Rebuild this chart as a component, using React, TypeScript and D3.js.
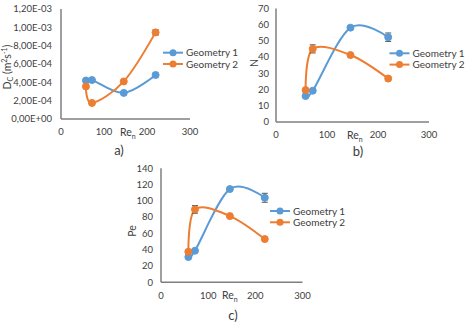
import React from "react";
import * as d3 from "d3";

const reynolds = [58, 72, 146, 220];
const seriesNames = ["Geometry 1", "Geometry 2"];
const xTicks = [0, 100, 200, 300];

const dcGeom1 = [4.2e-4, 4.25e-4, 2.85e-4, 4.8e-4];
const dcGeom2 = [3.55e-4, 1.75e-4, 4.1e-4, 9.45e-4];
const dcErr1 = [0, 0, 0, 2e-5];
const dcErr2 = [0, 0, 0, 3e-5];
const dcTicks = [0, 2e-4, 4e-4, 6e-4, 8e-4, 1e-3, 1.2e-3];
const dcTickLabels = ["0,00E+00", "2,00E-04", "4,00E-04", "6,00E-04", "8,00E-04", "1,00E-03", "1,20E-03"];

const nGeom1 = [16, 19.3, 58.2, 52.3];
const nGeom2 = [19.7, 45.1, 41.3, 26.8];
const nErr1 = [0, 0, 0, 2.6];
const nErr2 = [0, 2.5, 0, 0];
const nTicks = [0, 10, 20, 30, 40, 50, 60, 70];

const peGeom1 = [31, 38.8, 114.5, 103.8];
const peGeom2 = [37.5, 89.5, 81.3, 53.1];
const peErr1 = [0, 0, 0, 5.5];
const peErr2 = [0, 4.7, 0, 0];
const peTicks = [0, 20, 40, 60, 80, 100, 120, 140];

const COLORS = ["#5B9BD5", "#ED7D31"];
const FONT = "Lato, 'Open Sans', sans-serif";
const TXT = "#404040";

type PanelProps = {
  x0: number; x1: number; yTop: number; yBot: number;
  yMax: number; yTicks: number[]; yLabels: string[]; gap: number;
  s1: number[]; s2: number[]; e1: number[]; e2: number[];
  yTitle: React.ReactNode; yTitleX: number; yTitleY: number;
  legX: number; legY: number;
  reX: number; panelLabel: string; plX: number; plY: number;
};

function Panel(p: PanelProps) {
  const x = d3.scaleLinear().domain([0, 300]).range([p.x0, p.x1]);
  const y = d3.scaleLinear().domain([0, p.yMax]).range([p.yBot, p.yTop]);
  const line = d3.line<[number, number]>()
    .x((d) => x(d[0]))
    .y((d) => y(d[1]))
    .curve(d3.curveCardinal.tension(0));
  const series = [p.s1, p.s2];
  const errs = [p.e1, p.e2];
  return (
    <g fontFamily={FONT} fill={TXT}>
      <line x1={p.x0} x2={p.x0} y1={p.yTop} y2={p.yBot} stroke="#7f7f7f" strokeWidth={1.5} />
      <line x1={p.x0} x2={p.x1} y1={p.yBot} y2={p.yBot} stroke="#7f7f7f" strokeWidth={1.5} />
      {p.yTicks.map((t, i) => (
        <text key={"y" + i} x={p.x0 - p.gap} y={y(t)} dy="0.35em" textAnchor="end" fontSize={9.5}>
          {p.yLabels[i]}
        </text>
      ))}
      {xTicks.map((t) => (
        <text key={"x" + t} x={x(t)} y={p.yBot + 13} dy="0.35em" textAnchor="middle" fontSize={9.5}>
          {t}
        </text>
      ))}
      <text x={p.reX} y={p.yBot + 13} dy="0.35em" fontSize={10.5}>
        Re<tspan fontSize={7} dy="3">n</tspan>
      </text>
      <g transform={`translate(${p.yTitleX},${p.yTitleY}) rotate(-90)`}>
        <text x={0} y={0} textAnchor="middle" fontSize={10.5} dy="0.35em">
          {p.yTitle}
        </text>
      </g>
      {series.map((s, si) => (
        <g key={"s" + si}>
          <path d={line(reynolds.map((r, i) => [r, s[i]] as [number, number])) || ""} fill="none" stroke={COLORS[si]} strokeWidth={2} />
          {reynolds.map((r, i) =>
            errs[si][i] > 0 ? (
              <g key={"e" + i} stroke="#555" strokeWidth={1}>
                <line x1={x(r)} x2={x(r)} y1={y(s[i] - errs[si][i])} y2={y(s[i] + errs[si][i])} />
                <line x1={x(r) - 3} x2={x(r) + 3} y1={y(s[i] - errs[si][i])} y2={y(s[i] - errs[si][i])} />
                <line x1={x(r) - 3} x2={x(r) + 3} y1={y(s[i] + errs[si][i])} y2={y(s[i] + errs[si][i])} />
              </g>
            ) : null
          )}
          {reynolds.map((r, i) => (
            <circle key={"c" + i} cx={x(r)} cy={y(s[i])} r={3.5} fill={COLORS[si]} stroke={COLORS[si]} />
          ))}
        </g>
      ))}
      {seriesNames.map((n, i) => (
        <g key={"l" + i}>
          <line x1={p.legX} x2={p.legX + 20} y1={p.legY + i * 11.3} y2={p.legY + i * 11.3} stroke={COLORS[i]} strokeWidth={2} />
          <circle cx={p.legX + 10} cy={p.legY + i * 11.3} r={3.5} fill={COLORS[i]} />
          <text x={p.legX + 23} y={p.legY + i * 11.3} dy="0.35em" fontSize={10}>{n}</text>
        </g>
      ))}
      <text x={p.plX} y={p.plY} dy="0.35em" textAnchor="middle" fontSize={13}>{p.panelLabel}</text>
    </g>
  );
}

export default function App() {
  return (
    <svg width={474} height={322} style={{ position: "absolute", left: 0, top: 0, background: "#fff" }}>
      <Panel
        x0={61} x1={190} yTop={9} yBot={119} yMax={1.2e-3}
        yTicks={dcTicks} yLabels={dcTickLabels} gap={9}
        s1={dcGeom1} s2={dcGeom2} e1={dcErr1} e2={dcErr2}
        yTitle={<>D<tspan fontSize={7} dy="2">C</tspan><tspan dy="-2"> (m</tspan><tspan fontSize={7} dy="-4">2</tspan><tspan dy="4">s</tspan><tspan fontSize={7} dy="-4">-1</tspan><tspan dy="4">)</tspan></>}
        yTitleX={7} yTitleY={67}
        legX={163} legY={52.7}
        reX={120} panelLabel="a)" plX={119} plY={150}
      />
      <Panel
        x0={276} x1={429} yTop={8.5} yBot={122} yMax={70}
        yTicks={nTicks} yLabels={nTicks.map(String)} gap={7}
        s1={nGeom1} s2={nGeom2} e1={nErr1} e2={nErr2}
        yTitle={"N"} yTitleX={254} yTitleY={63}
        legX={389.5} legY={53.3}
        reX={347} panelLabel="b)" plX={358} plY={151}
      />
      <Panel
        x0={161} x1={302.5} yTop={168.3} yBot={282.3} yMax={140}
        yTicks={peTicks} yLabels={peTicks.map(String)} gap={8}
        s1={peGeom1} s2={peGeom2} e1={peErr1} e2={peErr2}
        yTitle={"Pe"} yTitleX={132} yTitleY={231}
        legX={270} legY={211}
        reX={222} panelLabel="c)" plX={233} plY={315}
      />
    </svg>
  );
}
